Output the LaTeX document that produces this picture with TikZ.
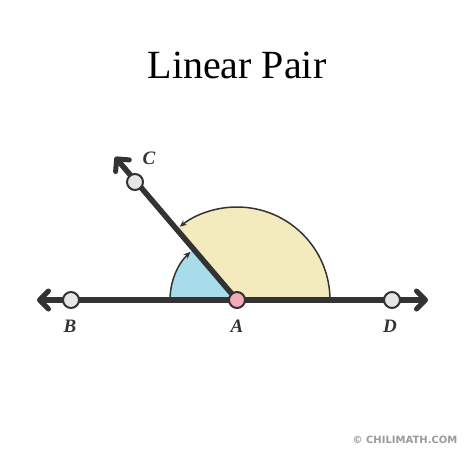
\documentclass[tikz,border=0pt]{standalone}
\usepackage{fontspec}
\setmainfont{Liberation Serif}
\newfontfamily\wmfont{DejaVu Sans}
\usetikzlibrary{arrows.meta}
\definecolor{ink}{HTML}{333333}
\definecolor{sectyellow}{HTML}{F3EBBE}
\definecolor{sectblue}{HTML}{A8DCEA}
\definecolor{ptpink}{HTML}{F5AAB8}
\definecolor{ptgray}{HTML}{E6E6E6}
\definecolor{wmgray}{HTML}{9A9A9A}
\tikzset{
  rayline/.style={draw=ink, line width=5.5pt, line cap=round, -{Straight Barb[length=9pt,width=18pt,line width=5pt, round]}},
  pt/.style={circle, draw=ink, line width=2pt, fill=ptgray, minimum size=16pt, inner sep=0pt},
  lbl/.style={font=\bfseries\itshape\fontsize{19}{19}\selectfont, text=ink},
  arcmark/.style={draw=ink, line width=1.5pt}
}
\begin{document}
\begin{tikzpicture}[x=1pt,y=-1pt]
\useasboundingbox (0,0) rectangle (474,474);
\coordinate (A) at (237,300);
\coordinate (Lend) at (37,300);
\coordinate (Rend) at (428,300);
\coordinate (Cend) at (115,157);
% sectors
\fill[sectyellow] (A) -- ++(0:93) arc[start angle=0, end angle=-130.8, radius=93] -- cycle;
\fill[sectblue] (A) -- ++(-130.8:67) arc[start angle=-130.8, end angle=-180, radius=67] -- cycle;
\draw[arcmark, -{Stealth[length=7pt,width=6pt]}] (A) ++(0:93) arc[start angle=0, end angle=-128, radius=93];
\draw[arcmark, -{Stealth[length=7pt,width=6pt]}] (A) ++(180:67) arc[start angle=-180, end angle=-134, radius=67];
% lines
\draw[rayline] (A) -- (Lend);
\draw[rayline] (A) -- (Rend);
\draw[rayline] (A) -- (Cend);
% points
\node[pt] (B) at (71,300) {};
\node[pt] (D) at (392,300) {};
\node[pt] (C) at (135,182) {};
\node[pt, fill=ptpink] (Ap) at (A) {};
% labels
\node[lbl] (lB) at (70,326) {B};
\node[lbl] (lA) at (237,326) {A};
\node[lbl] (lD) at (390,326) {D};
\node[lbl] (lC) at (149,158) {C};
\node[font=\fontsize{40}{40}\selectfont, text=black] (title) at (237,65) {Linear Pair};
\node[font=\wmfont\bfseries\fontsize{10}{10}\selectfont, text=wmgray] (wm) at (405,440) {© CHILIMATH.COM};
\end{tikzpicture}
\end{document}
